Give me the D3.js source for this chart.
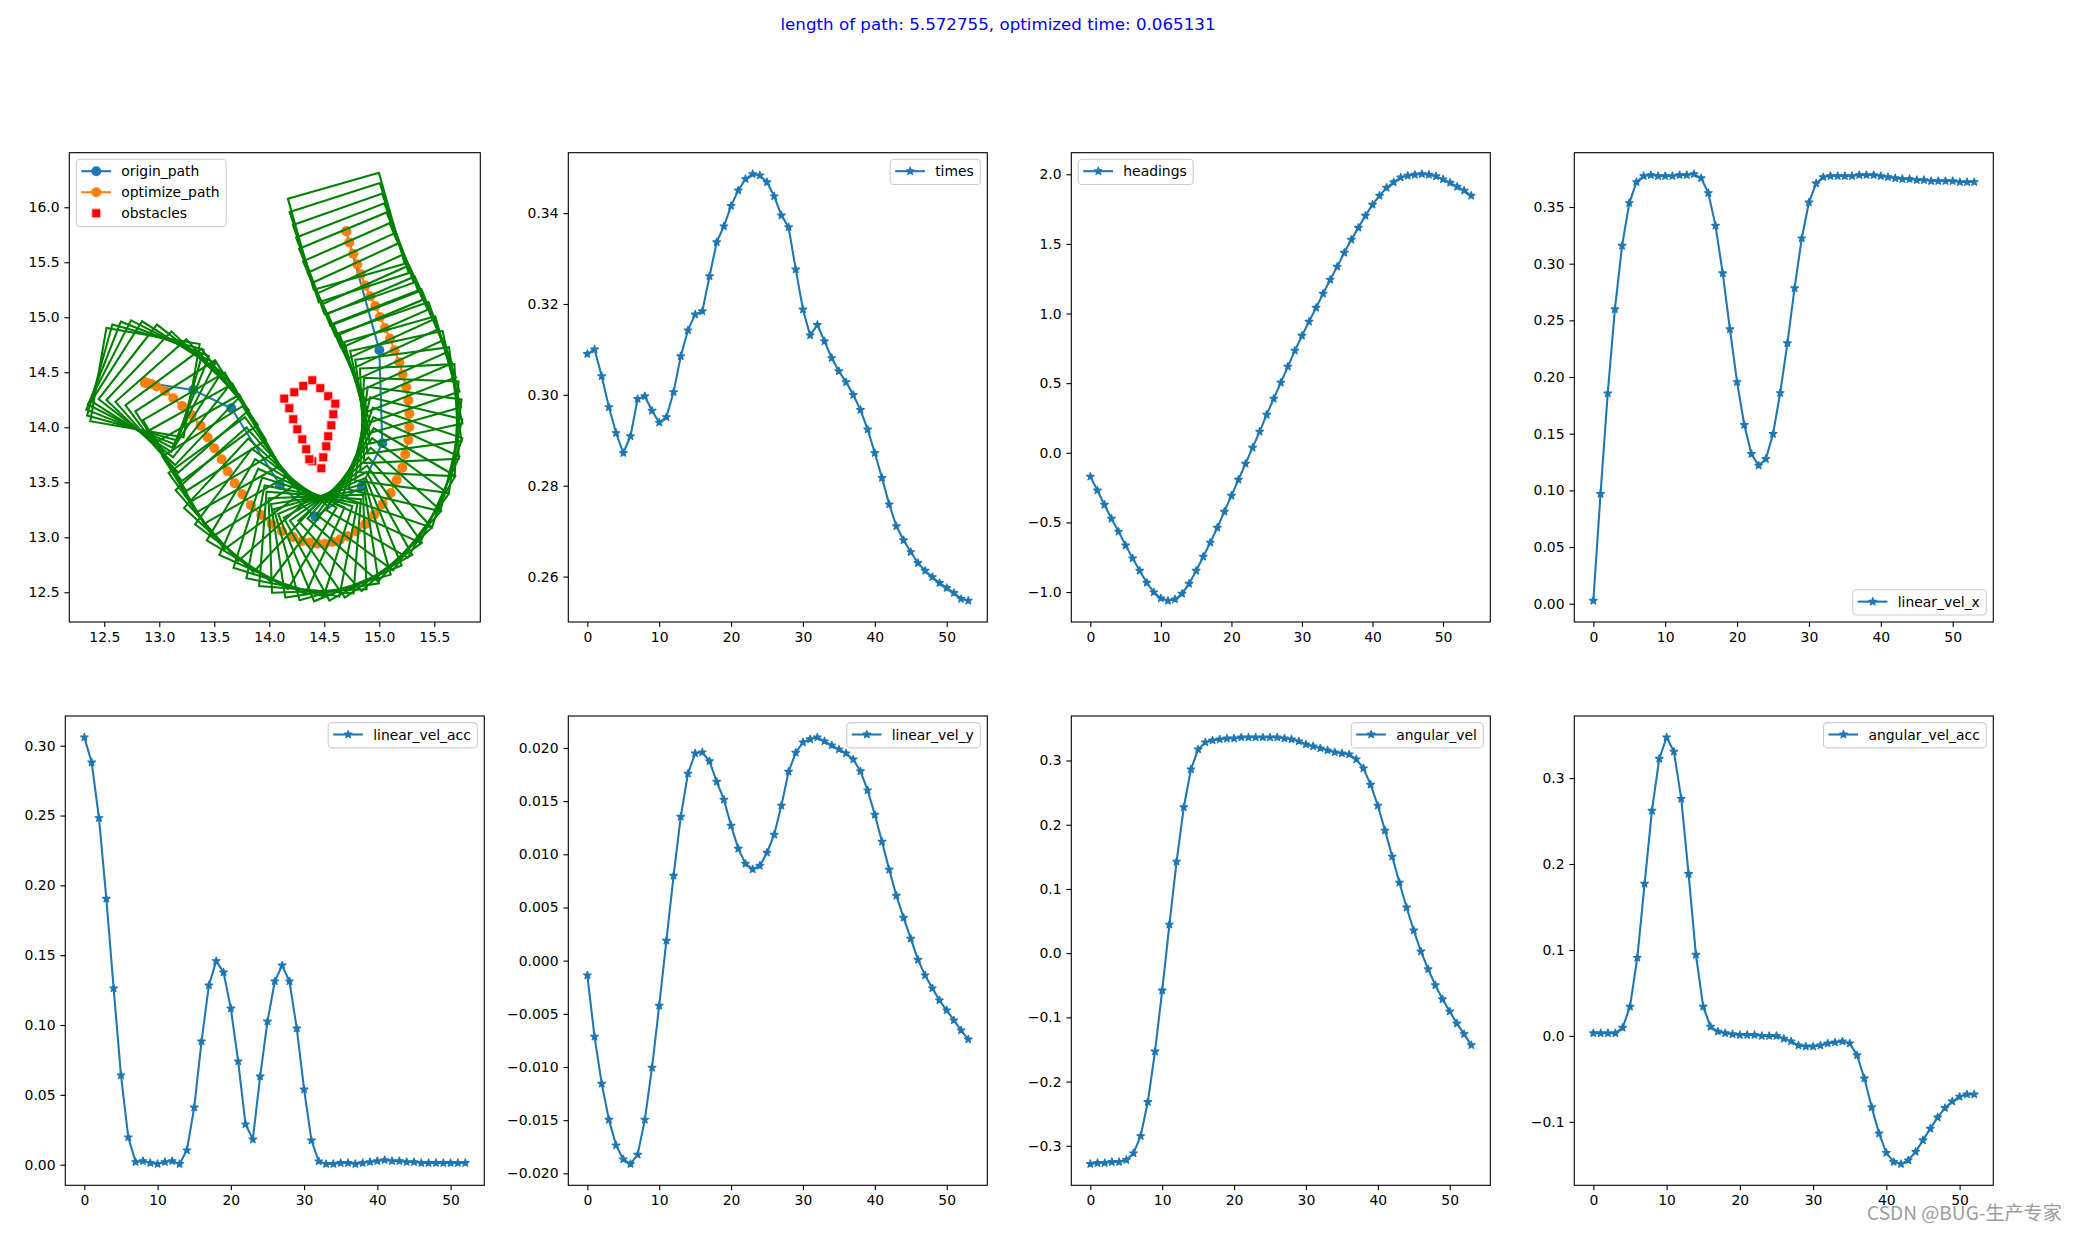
<!DOCTYPE html>
<html>
<head>
<meta charset="utf-8">
<script src="https://cdn.jsdelivr.net/npm/d3@7"></script>
<style>
body { margin: 0; background: #fff; }
text { font-family: "DejaVu Sans"; }
</style>
</head>
<body>
<svg id="svg" width="2076" height="1233"></svg>
<script>
// values
var times = [0.3090,0.3100,0.3041,0.2973,0.2916,0.2872,0.2909,0.2991,0.2997,0.2965,0.2939,0.2951,0.3006,0.3085,0.3142,0.3177,0.3184,0.3261,0.3336,0.3371,0.3416,0.3450,0.3475,0.3486,0.3483,0.3468,0.3437,0.3395,0.3369,0.3276,0.3188,0.3131,0.3154,0.3118,0.3081,0.3052,0.3028,0.3000,0.2967,0.2924,0.2872,0.2817,0.2759,0.2711,0.2680,0.2654,0.2630,0.2613,0.2599,0.2586,0.2575,0.2564,0.2551,0.2547];
var headings = [-0.171,-0.27,-0.373,-0.473,-0.566,-0.665,-0.758,-0.847,-0.933,-1.002,-1.045,-1.062,-1.052,-1.012,-0.94,-0.847,-0.746,-0.645,-0.538,-0.423,-0.308,-0.193,-0.078,0.037,0.152,0.274,0.389,0.504,0.619,0.734,0.841,0.942,1.042,1.143,1.243,1.337,1.437,1.531,1.617,1.703,1.782,1.847,1.904,1.943,1.978,1.99,1.997,2.002,1.997,1.986,1.964,1.94,1.911,1.883,1.847];
var linearVelX = [0.0027,0.0969,0.1856,0.2599,0.3159,0.3535,0.372,0.3773,0.3782,0.3773,0.3773,0.3773,0.3782,0.3782,0.3791,0.3755,0.3623,0.3336,0.2916,0.2422,0.1956,0.1577,0.1321,0.1219,0.1277,0.1498,0.1859,0.2299,0.2784,0.3224,0.3541,0.3708,0.3764,0.3773,0.3773,0.3773,0.3773,0.3782,0.3782,0.3782,0.3773,0.3764,0.3755,0.3747,0.3747,0.3738,0.3738,0.3729,0.3729,0.3729,0.3729,0.372,0.372,0.372];
var linearVelAcc = [0.306,0.288,0.2482,0.1905,0.1263,0.064,0.0196,0.0019,0.0026,0.0012,0.0005,0.0019,0.0026,0.0005,0.0103,0.041,0.0883,0.1284,0.1458,0.1377,0.1119,0.074,0.0289,0.0181,0.0632,0.1026,0.1313,0.1427,0.1313,0.0976,0.0539,0.0174,0.0024,0.0005,0.0005,0.0012,0.0012,0.0005,0.0012,0.0019,0.0026,0.0033,0.0026,0.0026,0.0019,0.0019,0.0012,0.0012,0.0012,0.0012,0.0012,0.0012,0.0012];
var linearVelY = [-0.00138,-0.00715,-0.01157,-0.01495,-0.01737,-0.01868,-0.01912,-0.01824,-0.01495,-0.01006,-0.00423,0.00188,0.00799,0.01354,0.01759,0.0195,0.01959,0.01875,0.01683,0.01514,0.0127,0.01053,0.00912,0.00859,0.00893,0.01016,0.01185,0.01458,0.01777,0.01956,0.02053,0.02082,0.021,0.02063,0.02025,0.01987,0.0195,0.01893,0.01781,0.01602,0.01373,0.01119,0.00856,0.00611,0.00404,0.00207,0.00009,-0.00138,-0.0026,-0.00373,-0.00467,-0.00561,-0.00655,-0.0074];
var angularVel = [-0.3283,-0.3268,-0.3268,-0.3252,-0.3252,-0.3221,-0.3117,-0.2848,-0.2318,-0.153,-0.0581,0.0446,0.1426,0.2272,0.2863,0.3174,0.3283,0.3314,0.333,0.3345,0.3345,0.3361,0.3361,0.3361,0.3361,0.3361,0.3361,0.3345,0.333,0.3299,0.3252,0.3221,0.319,0.3159,0.3128,0.3112,0.3096,0.3019,0.2879,0.2624,0.2298,0.1909,0.1504,0.11,0.0711,0.0353,0.0026,-0.0249,-0.0498,-0.0716,-0.0908,-0.1094,-0.126,-0.1432];
var angularVelAcc = [0.0032,0.0032,0.0032,0.0032,0.0095,0.034,0.0909,0.1771,0.2621,0.3225,0.3474,0.3308,0.2759,0.1885,0.0945,0.034,0.0107,0.0051,0.0032,0.002,0.0012,0.0012,0.0012,0,0,0,-0.0032,-0.0063,-0.0111,-0.0123,-0.0123,-0.0111,-0.0087,-0.0075,-0.0063,-0.0087,-0.0225,-0.0494,-0.083,-0.1134,-0.136,-0.1466,-0.149,-0.1447,-0.1348,-0.1213,-0.1079,-0.0949,-0.0838,-0.0763,-0.0708,-0.068,-0.068];

var originX = [12.87,13.309,13.655,14.097,14.418,14.839,15.027,15.0,14.7];
var originY = [14.406,14.339,14.173,13.476,13.188,13.461,13.855,14.703,15.782];
var optX = [12.87,12.873,12.894,12.93,12.976,13.052,13.127,13.209,13.294,13.376,13.439,13.5,13.567,13.621,13.685,13.755,13.833,13.927,14.021,14.115,14.215,14.297,14.37,14.439,14.506,14.573,14.642,14.715,14.788,14.87,14.955,15.03,15.103,15.158,15.209,15.236,15.264,15.273,15.273,15.264,15.245,15.212,15.182,15.139,15.097,15.052,15.006,14.964,14.918,14.873,14.833,14.8,14.764,14.727,14.7];
var optY = [14.406,14.406,14.403,14.394,14.37,14.33,14.264,14.194,14.112,14.015,13.909,13.809,13.709,13.6,13.491,13.391,13.291,13.203,13.121,13.055,13.003,12.967,12.952,12.942,12.942,12.958,12.979,13.009,13.052,13.118,13.206,13.3,13.403,13.521,13.633,13.755,13.885,14.003,14.124,14.245,14.364,14.479,14.591,14.7,14.806,14.903,15.003,15.103,15.191,15.288,15.391,15.479,15.576,15.679,15.782];
var obstacleX = [14.136,14.227,14.309,14.391,14.464,14.536,14.6,14.582,14.564,14.536,14.518,14.491,14.473,14.391,14.364,14.336,14.3,14.255,14.218,14.182];
var obstacleY = [14.261,14.318,14.376,14.427,14.355,14.282,14.215,14.118,14.018,13.918,13.827,13.727,13.627,13.691,13.709,13.8,13.891,13.982,14.073,14.173];
var carHalf = 0.43; // half side of the green box

var pathXTicks = [12.5,13,13.5,14,14.5,15,15.5];
var pathYTicks = [12.5,13,13.5,14,14.5,15,15.5,16];
var indexTicks = [0,10,20,30,40,50];
var timesTicks = [0.26,0.28,0.30,0.32,0.34];
var headingTicks = [-1,-0.5,0,0.5,1,1.5,2];
var velXTicks = [0,0.05,0.1,0.15,0.2,0.25,0.3,0.35];
var accTicks = [0,0.05,0.1,0.15,0.2,0.25,0.3];
var velYTicks = [-0.02,-0.015,-0.01,-0.005,0,0.005,0.01,0.015,0.02];
var angTicks = [-0.3,-0.2,-0.1,0,0.1,0.2,0.3];
var angAccTicks = [-0.1,0,0.1,0.2,0.3];

var blue = "#1f77b4", orange = "#ff7f0e";
var lw = 2.08, tickLen = 4.9, fontSize = 13.9, dotR = 5, squareSide = 9;
var svg = d3.select("#svg");

svg.append("text").attr("x", 998).attr("y", 30).attr("text-anchor", "middle")
  .attr("fill", "blue").attr("font-size", 16.7)
  .text("length of path: 5.572755, optimized time: 0.065131");

function axes(left, top, w, h, xd, yd, xTicks, yTicks, xFmt, yFmt) {
  var g = svg.append("g");
  var x = d3.scaleLinear().domain(xd).range([left, left + w]);
  var y = d3.scaleLinear().domain(yd).range([top + h, top]);
  g.append("g").attr("transform", "translate(0," + (top + h) + ")")
    .call(d3.axisBottom(x).tickValues(xTicks).tickFormat(d3.format(xFmt)).tickSize(tickLen).tickPadding(4.9));
  g.append("g").attr("transform", "translate(" + left + ",0)")
    .call(d3.axisLeft(y).tickValues(yTicks).tickFormat(d3.format(yFmt)).tickSize(tickLen).tickPadding(4.9));
  g.selectAll(".domain").remove();
  g.selectAll(".tick line").attr("stroke", "#000").attr("stroke-width", 1.1);
  g.selectAll(".tick text").attr("font-size", fontSize).attr("font-family", "DejaVu Sans").attr("fill", "#000");
  return {g: g, x: x, y: y, left: left, top: top, w: w, h: h};
}

function spines(a) {
  a.g.append("rect").attr("x", a.left).attr("y", a.top).attr("width", a.w).attr("height", a.h)
    .attr("fill", "none").attr("stroke", "#000").attr("stroke-width", 1.1);
}

function starAt(g, cx, cy) {
  g.append("path").attr("d", d3.symbol(d3.symbolStar, 18)())
    .attr("transform", "translate(" + cx + "," + cy + ")")
    .attr("fill", blue).attr("stroke", blue).attr("stroke-width", 1.3)
    .attr("stroke-linejoin", "round");
}

// loc: "ur", "ul" or "lr"
function legend(a, items, loc) {
  var g = a.g.append("g");
  var box = g.append("rect");
  var labels = items.map(function(it) {
    return g.append("text").attr("font-size", fontSize).attr("fill", "#000").text(it.label);
  });
  var tw = d3.max(labels, function(t) { return t.node().getComputedTextLength(); });
  var bw = tw + 51.5, bh = items.length * 21.05 + 4.2;
  var bx = loc == "ul" ? a.left + 7 : a.left + a.w - 7 - bw;
  var by = loc == "lr" ? a.top + a.h - 7 - bh : a.top + 6.6;
  box.attr("x", bx).attr("y", by).attr("width", bw).attr("height", bh).attr("rx", 3.9)
    .attr("fill", "#fff").attr("fill-opacity", 0.8).attr("stroke", "#ccc").attr("stroke-width", 1.1);
  items.forEach(function(it, i) {
    var ry = by + 11.9 + i * 21.05, hx = bx + 5;
    labels[i].raise().attr("x", bx + 45).attr("y", ry + 5);
    if (it.kind == "square") {
      g.append("rect").attr("x", hx + 15 - squareSide / 2).attr("y", ry - squareSide / 2)
        .attr("width", squareSide).attr("height", squareSide)
        .attr("fill", "red").attr("stroke", "#ffd5dd").attr("stroke-width", 1);
      return;
    }
    g.append("line").attr("x1", hx).attr("x2", hx + 29.7).attr("y1", ry).attr("y2", ry)
      .attr("stroke", it.color).attr("stroke-width", lw);
    if (it.kind == "circle") {
      g.append("circle").attr("cx", hx + 15).attr("cy", ry).attr("r", dotR).attr("fill", it.color);
    } else {
      starAt(g, hx + 15, ry);
    }
  });
}

// path panel
var pa = axes(69.3, 152.7, 411, 469.3, [12.182, 15.918], [12.23, 16.496], pathXTicks, pathYTicks, ".1f", ".1f");
var pathLine = d3.line().x(function(d) { return pa.x(d[0]); }).y(function(d) { return pa.y(d[1]); });

function pathMarks(xs, ys, color) {
  var pts = d3.zip(xs, ys);
  pa.g.append("path").attr("d", pathLine(pts)).attr("fill", "none").attr("stroke", color).attr("stroke-width", lw);
  pa.g.append("g").selectAll("circle").data(pts).enter().append("circle")
    .attr("cx", function(d) { return pa.x(d[0]); })
    .attr("cy", function(d) { return pa.y(d[1]); })
    .attr("r", dotR).attr("fill", color);
}
pathMarks(originX, originY, blue);
pathMarks(optX, optY, orange);

pa.g.append("g").selectAll("rect").data(d3.zip(obstacleX, obstacleY)).enter().append("rect")
  .attr("x", function(d) { return pa.x(d[0]) - squareSide / 2; })
  .attr("y", function(d) { return pa.y(d[1]) - squareSide / 2; })
  .attr("width", squareSide).attr("height", squareSide)
  .attr("fill", "red").attr("stroke", "#ffd5dd").attr("stroke-width", 1);

// one box per path point, turned by its heading
function carBox(i) {
  var c = Math.cos(headings[i]) * carHalf, s = Math.sin(headings[i]) * carHalf;
  return [[optX[i] + c - s, optY[i] + s + c], [optX[i] + c + s, optY[i] + s - c],
          [optX[i] - c + s, optY[i] - s - c], [optX[i] - c - s, optY[i] - s + c]];
}
pa.g.append("g").selectAll("path").data(d3.range(optX.length)).enter().append("path")
  .attr("d", function(i) { return pathLine(carBox(i)) + "Z"; })
  .attr("fill", "none").attr("stroke", "green").attr("stroke-width", lw);

spines(pa);
legend(pa, [
  {label: "origin_path", kind: "circle", color: blue},
  {label: "optimize_path", kind: "circle", color: orange},
  {label: "obstacles", kind: "square"}
], "ul");

// series panels
function seriesPanel(left, top, values, yTicks, yFmt, name, loc) {
  var xd = [-0.05 * (values.length - 1), 1.05 * (values.length - 1)];
  var ext = d3.extent(values), m = (ext[1] - ext[0]) * 0.05;
  var a = axes(left, top, 419, 469.3, xd, [ext[0] - m, ext[1] + m], indexTicks, yTicks, "d", yFmt);
  var line = d3.line().x(function(d, i) { return a.x(i); }).y(function(d) { return a.y(d); });
  a.g.append("path").attr("d", line(values)).attr("fill", "none").attr("stroke", blue).attr("stroke-width", lw);
  values.forEach(function(v, i) { starAt(a.g, a.x(i), a.y(v)); });
  spines(a);
  legend(a, [{label: name, kind: "star", color: blue}], loc);
}

seriesPanel(568.3, 152.7, times, timesTicks, ".2f", "times", "ur");
seriesPanel(1071.3, 152.7, headings, headingTicks, ".1f", "headings", "ul");
seriesPanel(1574.3, 152.7, linearVelX, velXTicks, ".2f", "linear_vel_x", "lr");
seriesPanel(65.3, 716, linearVelAcc, accTicks, ".2f", "linear_vel_acc", "ur");
seriesPanel(568.3, 716, linearVelY, velYTicks, ".3f", "linear_vel_y", "ur");
seriesPanel(1071.3, 716, angularVel, angTicks, ".1f", "angular_vel", "ur");
seriesPanel(1574.3, 716, angularVelAcc, angAccTicks, ".1f", "angular_vel_acc", "ur");

// watermark
svg.append("text").attr("x", 1867).attr("y", 1220)
  .style("font-family", "'Noto Sans CJK SC'").attr("font-size", 19.1).attr("fill", "#9c9c9c")
  .attr("stroke", "#fff").attr("stroke-width", 2).attr("paint-order", "stroke")
  .text("CSDN @BUG-生产专家");
</script>
</body>
</html>
